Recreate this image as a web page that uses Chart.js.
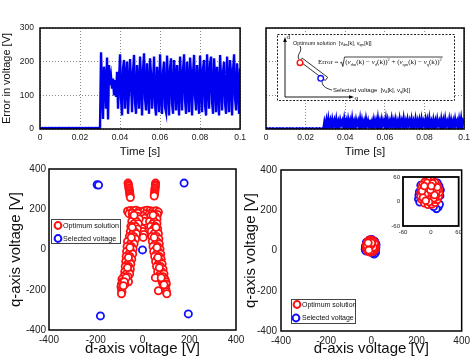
<!DOCTYPE html>
<html><head><meta charset="utf-8">
<script src="https://cdn.jsdelivr.net/npm/chart.js@4.4.1/dist/chart.umd.min.js"></script>
<style>
html,body{margin:0;padding:0;background:#fff;width:474px;height:356px;overflow:hidden;position:relative}
canvas{position:absolute}
</style></head><body>
<canvas id="c1" width="250" height="162" style="left:0;top:0"></canvas>
<canvas id="c2" width="236" height="162" style="left:238px;top:0"></canvas>
<canvas id="c3" width="250" height="196" style="left:0;top:160px"></canvas>
<canvas id="c4" width="234" height="196" style="left:240px;top:160px"></canvas>
<canvas id="c5" width="80" height="72" style="left:385px;top:170px"></canvas>
<script>
// ---------- DATA ----------
const timeTicks = [0, 0.02, 0.04, 0.06, 0.08, 0.1];
const errTicks = [0, 100, 200, 300];
const dqTicks = [-400, -200, 0, 200, 400];
const insetTicks = [-60, 0, 60];
const sampleStep = 0.0005; // s between samples of the error traces

// error trace, conventional method (top-left) [V]
const errConventional = [
 3,2,3,3,2,3,3,2,3,3, 3,2,3,3,2,3,3,2,3,3, 3,2,3,3,2,3,3,2,3,3,
 3,2,3,3,2,3,3,2,3,3, 3,2,3,3,2,3,3,2,3,3, 3,2,3,3,2,3,3,2,3,3,
 4,228,120,30,185,150,60,212,28,190,
 130,155,120,150,100,145,95,170,60,140,
 222,90,40,180,205,60,150,200,45,120,
 208,140,50,170,220,80,45,190,130,60,
 215,150,40,175,225,90,55,195,120,45,
 210,160,60,140,215,70,40,185,140,50,
 222,110,45,170,200,65,50,218,130,40,
 180,210,75,45,205,150,55,190,120,40,
 215,140,55,175,222,85,45,200,130,50,
 212,160,40,165,220,95,55,190,125,45,
 218,135,50,180,205,70,40,222,140,60,
 195,215,80,45,210,150,50,185,120,40,
 220,145,55,170,200,75,45,215,135,50,
 205,160,40,175,222,90,55,195,130,45,
 180];

// error trace, proposed method (top-right) [V]
const errProposed = [
 1,2,1,1,2,1,1,2,1,1, 1,2,1,1,2,1,1,2,1,1, 1,2,1,1,2,1,1,2,1,1,
 1,2,1,1,2,1,1,2,1,1, 1,2,1,1,2,1,1,2,1,1, 1,2,1,1,2,1,1,2,
 2,22,
 8,26,5,30,10,24,4,28,12,25,
 6,29,9,22,5,27,14,24,7,30,
 10,23,4,28,11,25,6,31,9,22,
 5,27,13,24,7,29,4,26,10,23,
 6,30,12,24,5,28,9,22,4,27,
 11,25,6,31,8,23,5,28,13,24,
 7,29,4,26,10,23,6,30,12,25,
 5,27,9,22,4,29,11,24,7,31,
 10,23,5,28,13,25,6,27,4,22,
 8,30,11,24,5,26,9,29,6,23,
 12,28,4,25,7,31,10,22,5,27,
 9,24,6,29,13,23,4,28,8,25,
 5,30,11,22,7,27,4,26,10,24,
 6,29,12,23,5,28,9,31,7,25,
 20];

// bottom-left: optimum solutions [d, q] (V)
const optTopClusters = [[-62,330],[-60,322],[-59,314],[-58,306],[-57,298],[-56,290],[-55,282],[-54,274],[-53,266],[-52,258],
 [56,330],[55,322],[55,314],[54,306],[53,298],[53,290],[52,282],[51,274],[50,266]];
const optCap = [[-64,190],[-52,194],[-40,192],[-28,195],[-16,190],[-4,188],[8,192],[20,195],[32,193],[44,190],[58,192],[68,186],
 [-58,178],[-44,180],[-32,176],[-20,180],[15,178],[28,176],[40,178],[52,175],[64,174]];
const optCenter = [[2,165],[6,150],[4,135],[8,120],[-2,105],[10,155],[0,90],[6,75],[3,60],[8,140]];
const optLeftLeg = [[-42,165],[-22,165],[-30,152],[-14,152],[-46,140],[-26,140],[-36,128],[-18,128],[-50,115],[-30,115],
 [-40,102],[-22,102],[-52,90],[-34,90],[-42,78],[-26,78],[-56,65],[-38,65],[-46,52],[-30,52],
 [-64,40],[-45,40],[-52,28],[-36,28],[-66,15],[-48,15],[-56,2],[-40,2],[-68,-10],[-50,-10],
 [-58,-22],[-42,-22],[-70,-35],[-54,-35],[-62,-48],[-46,-48],[-72,-60],[-56,-60],[-64,-72],[-50,-72],
 [-74,-85],[-58,-85],[-66,-98],[-52,-98],[-76,-110],[-60,-110],[-70,-122],[-55,-122],[-80,-135],[-62,-135],
 [-88,-148],[-70,-148],[-86,-160],[-60,-160],[-90,-172],[-75,-172],[-92,-185],[-90,-198],[-88,-210],[-90,-220],
 [-36,170],[-44,110],[-48,60],[-54,10],[-60,-40],[-64,-90],[-70,-140],[-78,-160],[-82,-180]];
const optRightLeg = [[35,165],[55,165],[42,152],[62,152],[30,140],[50,140],[45,128],[62,128],[35,115],[55,115],
 [48,102],[65,102],[38,90],[58,90],[50,78],[68,78],[40,65],[60,65],[52,52],[70,52],
 [42,40],[62,40],[55,28],[72,28],[45,15],[65,15],[58,2],[75,2],[48,-10],[68,-10],
 [60,-22],[78,-22],[52,-35],[72,-35],[64,-48],[80,-48],[56,-60],[75,-60],[68,-72],[84,-72],
 [60,-85],[78,-85],[72,-98],[88,-98],[65,-110],[82,-110],[76,-122],[92,-122],[70,-135],[88,-135],
 [80,-148],[96,-148],[84,-160],[100,-160],[88,-172],[102,-172],[96,-185],[100,-198],[102,-210],[104,-220],
 [68,-205],[55,-140],
 [45,170],[58,110],[50,60],[62,10],[66,-40],[72,-90],[80,-140],[92,-175]];
// bottom-left: selected voltages [d, q]
const selConventional = [[-194,322],[-188,320],[178,330],[0,-2],[-180,-330],[196,-320]];

// bottom-right: optimum solutions and selected voltages [d, q]
const optProposed = [[-20,5],[-14,-4],[-6,-8],[2,-7],[9,-3],[14,4],[17,13],[18,22],[17,31],[14,40],[9,47],[2,51],[-6,52],[-13,48],[-18,41],[-21,32],[-22,22],[-22,13],
 [-14,8],[-6,3],[3,3],[10,10],[11,20],[10,30],[6,39],[-2,44],[-10,40],[-15,31],[-16,20],[-8,14],[0,12],[5,20],[3,30],[-5,34],[-9,25],[-2,22],[6,8],[-12,18],[12,25],[-17,10],[-4,-1],[14,35],[-8,46],[4,45],[-19,26],[8,16],[-1,28],[-11,2],[1,38],[-14,38]];
const selProposed = [[-27,6],[-26,16],[-25,24],[-24,-2],[-22,40],[16,-14],[19,-7],[12,-18],[6,-13],[18,38],[21,28],[20,14],[-8,52],[2,55],[14,46]];

const seriesNames = ['Optimum solution', 'Selected voltage'];

// ---------- HELPERS ----------
const FF = "'Liberation Sans', Arial, sans-serif";
const RED = '#ff1010', BLUE = '#1010ff';

function mkScale(o) {
  return {
    type: 'linear', position: o.pos, min: o.min, max: o.max,
    afterBuildTicks: s => { s.ticks = o.ticks.map(v => ({ value: v })); },
    afterFit: s => { if (o.pos === 'bottom') s.height = o.size; else s.width = o.size; },
    ticks: { display: o.showTicks !== false, callback: o.fmt || (v => String(v)),
      font: { family: FF, size: o.tickSize }, color: '#222', padding: o.tickPad,
      maxRotation: 0, autoSkip: false },
    grid: { display: !!o.grid, color: '#8a8a8a', lineWidth: 1, drawTicks: false },
    border: { display: false, dash: [1, 2] },
    title: { display: !!o.title, text: o.title || '', color: '#111',
      font: { family: FF, size: o.titleSize || 12, lineHeight: o.titleLH || 1.2 },
      padding: o.titlePad || 0 }
  };
}

const framePlugin = {
  id: 'frame',
  beforeDraw(chart, args, o) {
    if (o.fill) { const a = chart.chartArea; chart.ctx.fillStyle = '#fff'; chart.ctx.fillRect(a.left, a.top, a.width, a.height); }
  },
  afterDatasetsDraw(chart, args, o) {
    const { ctx, chartArea: a } = chart;
    ctx.save(); ctx.strokeStyle = '#000'; ctx.lineWidth = o.width || 1.5;
    ctx.strokeRect(a.left, a.top, a.width, a.height); ctx.restore();
  }
};

const boxLegend = {
  id: 'boxLegend',
  afterDraw(chart, args, o) {
    if (!o || o.w === undefined) return;
    const { ctx, chartArea: a } = chart;
    const x = a.left + o.dx, y = a.top + o.dy;
    ctx.save();
    ctx.fillStyle = '#fff'; ctx.fillRect(x, y, o.w, o.h);
    ctx.strokeStyle = '#444'; ctx.lineWidth = 1; ctx.strokeRect(x + .5, y + .5, o.w, o.h);
    ctx.font = o.font; ctx.textBaseline = 'middle'; ctx.textAlign = 'left';
    seriesNames.forEach((name, i) => {
      const ds = chart.data.datasets.find(d => d.label === name);
      const cy = y + o.rowY[i];
      ctx.beginPath(); ctx.arc(x + o.cx[i], cy, 3.4, 0, Math.PI * 2);
      ctx.fillStyle = '#fff'; ctx.fill(); ctx.strokeStyle = ds.borderColor; ctx.lineWidth = 2; ctx.stroke();
      ctx.fillStyle = '#111'; ctx.fillText(name, x + o.tx, cy + 0.5);
    });
    ctx.restore();
  }
};

function drawRich(ctx, x, y, parts, size, fam) {
  for (const [t, k] of parts) {
    let s = size, dy = 0, style = '';
    if (k === 'sub') { s = size * 0.62; dy = size * 0.28; }
    else if (k === 'sup') { s = size * 0.62; dy = -size * 0.4; }
    else if (k === 'i') style = 'italic ';
    ctx.font = style + s + 'px ' + fam;
    ctx.fillText(t, x, y + dy);
    x += ctx.measureText(t).width;
  }
  return x;
}

// explanatory sketch inside the top-right plot (offsets from plot-area corner)
const diagramPlugin = {
  id: 'diagram',
  afterDatasetsDraw(chart) {
    const { ctx, chartArea: a } = chart;
    const X = v => a.left + v, Y = v => a.top + v;
    ctx.save();
    ctx.fillStyle = '#fff'; ctx.fillRect(X(11), Y(6), 177, 66);
    ctx.setLineDash([2, 1.5]); ctx.strokeStyle = '#222'; ctx.lineWidth = 1;
    ctx.strokeRect(X(11) + .5, Y(6) + .5, 177, 66);
    ctx.setLineDash([]);
    // axes
    ctx.strokeStyle = '#000'; ctx.fillStyle = '#000'; ctx.lineWidth = 0.9;
    ctx.beginPath(); ctx.moveTo(X(19), Y(69)); ctx.lineTo(X(19), Y(12)); ctx.moveTo(X(19), Y(69)); ctx.lineTo(X(84), Y(69)); ctx.stroke();
    ctx.beginPath(); ctx.moveTo(X(17.2), Y(14)); ctx.lineTo(X(20.8), Y(14)); ctx.lineTo(X(19), Y(9)); ctx.closePath(); ctx.fill();
    ctx.beginPath(); ctx.moveTo(X(83), Y(67.2)); ctx.lineTo(X(83), Y(70.8)); ctx.lineTo(X(88), Y(69)); ctx.closePath(); ctx.fill();
    ctx.font = "7px 'Liberation Serif', serif"; ctx.textBaseline = 'middle';
    ctx.fillText('d', X(20.5), Y(9.5));
    ctx.fillText('q', X(88.5), Y(70));
    // slanted band between the two points
    const r = [X(34), Y(34.7)], b = [X(54.7), Y(50.3)];
    const dx = b[0] - r[0], dy = b[1] - r[1], L = Math.hypot(dx, dy);
    const ux = dx / L, uy = dy / L, nx = uy, ny = -ux;
    const s0 = [r[0] - ux * 1 + nx * 1, r[1] - uy * 1 + ny * 1], s1 = [b[0] + ux * 5 + nx * 1, b[1] + uy * 5 + ny * 1];
    ctx.lineWidth = 0.8;
    ctx.beginPath();
    ctx.moveTo(s0[0], s0[1]); ctx.lineTo(s1[0], s1[1]);
    ctx.lineTo(s1[0] + nx * 4, s1[1] + ny * 4); ctx.lineTo(s0[0] + nx * 4, s0[1] + ny * 4); ctx.closePath();
    ctx.stroke();
    // leaders
    ctx.beginPath(); ctx.moveTo(X(33), Y(31.5)); ctx.bezierCurveTo(X(30), Y(26), X(37), Y(24), X(34), Y(18)); ctx.stroke();
    ctx.beginPath(); ctx.moveTo(X(56), Y(53.5)); ctx.bezierCurveTo(X(56), Y(59), X(62), Y(61), X(66), Y(62)); ctx.stroke();
    // circles
    [[r, RED], [b, BLUE]].forEach(([p, c]) => {
      ctx.beginPath(); ctx.arc(p[0], p[1], 2.8, 0, Math.PI * 2); ctx.fillStyle = '#fff'; ctx.fill();
      ctx.strokeStyle = c; ctx.lineWidth = 1.4; ctx.stroke();
    });
    ctx.fillStyle = '#111'; ctx.textBaseline = 'middle';
    const sans = "'Liberation Sans', Arial, sans-serif", serif = "'Liberation Serif', 'Times New Roman', serif";
    drawRich(ctx, X(27), Y(15.5), [['Optimum solution  [v', 'n'], ['dm', 'sub'], ['[k], v', 'n'], ['qm', 'sub'], ['[k]]', 'n']], 5.5, sans);
    drawRich(ctx, X(67), Y(62.5), [['Selected voltage  [v', 'n'], ['d', 'sub'], ['[k], v', 'n'], ['q', 'sub'], ['[k]]', 'n']], 6, sans);
    // formula
    let fx = drawRich(ctx, X(52), Y(34.5), [['Error = ', 'n']], 7, serif);
    const fy = Y(34.5);
    ctx.strokeStyle = '#111'; ctx.lineWidth = 0.8;
    const endX = drawRich(ctx, fx + 5, fy, [['(', 'n'], ['v', 'i'], ['dm', 'sub'], ['(k) \u2212 ', 'n'], ['v', 'i'], ['d', 'sub'], ['(k))', 'n'], ['2', 'sup'],
      [' + (', 'n'], ['v', 'i'], ['qm', 'sub'], ['(k) \u2212 ', 'n'], ['v', 'i'], ['q', 'sub'], ['(k))', 'n'], ['2', 'sup']], 7, serif);
    ctx.beginPath(); ctx.moveTo(fx, fy + 0.5); ctx.lineTo(fx + 1.3, fy - 0.5); ctx.lineTo(fx + 2.6, fy + 4); ctx.lineTo(fx + 4.3, fy - 5.5);
    ctx.lineTo(endX + 1, fy - 5.5); ctx.stroke();
    ctx.restore();
  }
};

const pts = arr => arr.map(p => ({ x: p[0], y: p[1] }));
const trace = vals => vals.map((v, i) => ({ x: i * sampleStep, y: v }));
const timeFmt = v => String(+(+v).toFixed(2));
const common = { responsive: false, animation: false, events: [] };

// ---------- TOP-LEFT ----------
new Chart(document.getElementById('c1'), {
  type: 'line',
  data: { datasets: [{ data: trace(errConventional), borderColor: '#0000f0', borderWidth: 2.4, pointRadius: 0, tension: 0 }] },
  options: { ...common, layout: { padding: { top: 28, right: 7, left: 0, bottom: 0 } },
    plugins: { legend: { display: false }, tooltip: { enabled: false }, frame: { width: 1.5 } },
    scales: {
      x: mkScale({ pos: 'bottom', min: 0, max: 0.1, ticks: timeTicks, fmt: timeFmt, size: 33, tickSize: 8.5, tickPad: 4, grid: true, title: 'Time [s]', titleSize: 11.5, titlePad: { top: 0, bottom: 3 } }),
      y: mkScale({ pos: 'left', min: 0, max: 300, ticks: errTicks, size: 40, tickSize: 8.5, tickPad: 6, grid: true, title: 'Error in voltage [V]', titleSize: 11, titlePad: { top: 0, bottom: 0 } })
    } },
  plugins: [framePlugin]
});

// ---------- TOP-RIGHT ----------
new Chart(document.getElementById('c2'), {
  type: 'line',
  data: { datasets: [{ data: trace(errProposed), borderColor: '#0000f0', borderWidth: 2.4, pointRadius: 0, tension: 0 }] },
  options: { ...common, layout: { padding: { top: 28, right: 5, left: 0, bottom: 0 } },
    plugins: { legend: { display: false }, tooltip: { enabled: false }, frame: { width: 1.5 } },
    scales: {
      x: mkScale({ pos: 'bottom', min: 0, max: 0.1, ticks: timeTicks, fmt: timeFmt, size: 33, tickSize: 8.5, tickPad: 4, grid: true, title: 'Time [s]', titleSize: 11.5, titlePad: { top: 0, bottom: 3 } }),
      y: mkScale({ pos: 'left', min: 0, max: 300, ticks: errTicks, size: 28, tickSize: 8.5, tickPad: 6, grid: true, showTicks: false })
    } },
  plugins: [diagramPlugin, framePlugin]
});

// ---------- BOTTOM-LEFT ----------
const optConvAll = [].concat(optTopClusters, optCap, optCenter, optLeftLeg, optRightLeg);
function scatterDs(name, arr, color, order, r) {
  return { label: name, data: pts(arr), borderColor: color, backgroundColor: '#fff', pointBackgroundColor: '#fff',
    pointBorderColor: color, pointRadius: r, pointBorderWidth: 1.8, showLine: false, order };
}
new Chart(document.getElementById('c3'), {
  type: 'scatter',
  data: { datasets: [scatterDs(seriesNames[0], optConvAll, RED, 1, 3.6), scatterDs(seriesNames[1], selConventional, BLUE, 0, 3.6)] },
  options: { ...common, layout: { padding: { top: 8, right: 14, left: 0, bottom: 0 } },
    plugins: { legend: { display: false }, tooltip: { enabled: false }, frame: { width: 1.5 },
      boxLegend: { dx: 2, dy: 50, w: 69, h: 24, cx: [7, 7], tx: 12, rowY: [6.5, 19.5], font: "7.2px 'Liberation Sans', Arial, sans-serif" } },
    scales: {
      x: mkScale({ pos: 'bottom', min: -400, max: 400, ticks: dqTicks, size: 26, tickSize: 10, tickPad: 4, title: 'd-axis voltage [V]', titleSize: 15, titleLH: 1, titlePad: { top: 0, bottom: 0 } }),
      y: mkScale({ pos: 'left', min: -400, max: 400, ticks: dqTicks, size: 49, tickSize: 10, tickPad: 3, title: 'q-axis voltage [V]', titleSize: 15, titleLH: 1, titlePad: { top: 8, bottom: 0 } })
    } },
  plugins: [framePlugin, boxLegend]
});

// ---------- BOTTOM-RIGHT ----------
new Chart(document.getElementById('c4'), {
  type: 'scatter',
  data: { datasets: [scatterDs(seriesNames[0], optProposed, RED, 0, 3.6), scatterDs(seriesNames[1], selProposed, BLUE, 1, 3.6)] },
  options: { ...common, layout: { padding: { top: 8, right: 7, left: 0, bottom: 0 } },
    plugins: { legend: { display: false }, tooltip: { enabled: false }, frame: { width: 1.5 },
      boxLegend: { dx: 10, dy: 129, w: 64, h: 24, cx: [6, 5], tx: 11, rowY: [5.5, 19], font: "7px 'Liberation Sans', Arial, sans-serif" } },
    scales: {
      x: mkScale({ pos: 'bottom', min: -400, max: 400, ticks: dqTicks, size: 25, tickSize: 10, tickPad: 4, title: 'd-axis voltage [V]', titleSize: 15, titleLH: 1, titlePad: { top: 0, bottom: 0 } }),
      y: mkScale({ pos: 'left', min: -400, max: 400, ticks: dqTicks, size: 41, tickSize: 10, tickPad: 4, title: 'q-axis voltage [V]', titleSize: 15, titleLH: 1, titlePad: { top: 3, bottom: 0 } })
    } },
  plugins: [framePlugin, boxLegend]
});

// ---------- INSET (zoom of bottom-right) ----------
new Chart(document.getElementById('c5'), {
  type: 'scatter',
  data: { datasets: [scatterDs(seriesNames[0], optProposed, RED, 0, 3.4), scatterDs(seriesNames[1], selProposed, BLUE, 1, 3.4)] },
  options: { ...common, layout: { padding: { top: 7, right: 6, left: 0, bottom: 0 } },
    plugins: { legend: { display: false }, tooltip: { enabled: false }, frame: { width: 1.8, fill: true } },
    scales: {
      x: mkScale({ pos: 'bottom', min: -60, max: 60, ticks: insetTicks, size: 16, tickSize: 6, tickPad: 3 }),
      y: mkScale({ pos: 'left', min: -60, max: 60, ticks: insetTicks, size: 18, tickSize: 6, tickPad: 3 })
    } },
  plugins: [framePlugin]
});
</script>
</body></html>
